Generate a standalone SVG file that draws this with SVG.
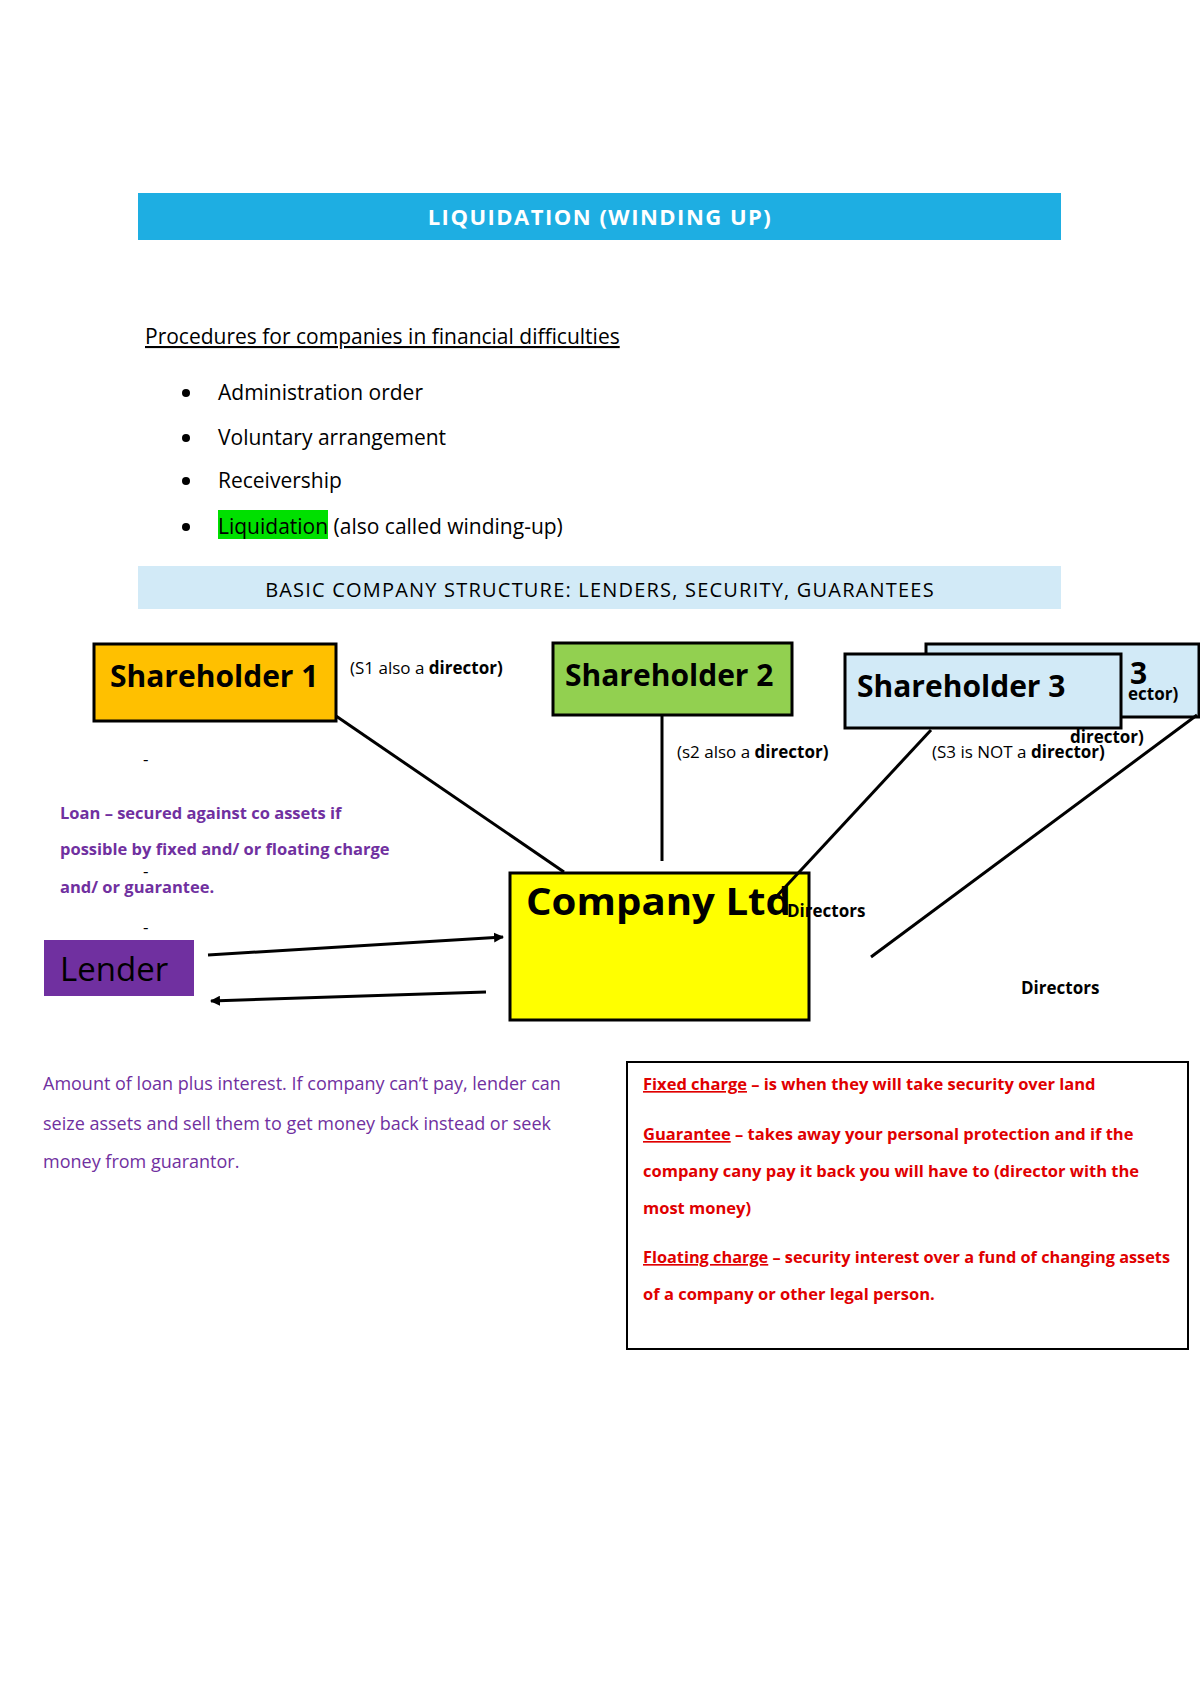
<svg xmlns="http://www.w3.org/2000/svg" width="1200" height="1698" viewBox="0 0 1200 1698">
<style>
text{font-family:"Open Sans","Liberation Sans",sans-serif}
.b{font-size:21px;fill:#000}
.sh{font-size:30px;font-weight:bold;fill:#000}
.note{font-size:17px;fill:#000}
.p{font-size:16.5px;fill:#7030A0;font-weight:bold}
.pb{font-size:18px;fill:#7030A0}
.r{font-size:16.5px;fill:#e00000;font-weight:bold}
.ln{stroke:#000;stroke-width:3;fill:none}
</style>
<defs><marker id="ah" markerWidth="10" markerHeight="10" refX="9" refY="5" orient="auto" markerUnits="userSpaceOnUse"><path d="M0,0 L10,5 L0,10 z" fill="#000"/></marker></defs>
<rect width="1200" height="1698" fill="#fff"/>
<rect x="138" y="193" width="923" height="47" fill="#1EAEE2"/>
<text x="600" y="225" text-anchor="middle" font-size="22" font-weight="bold" fill="#fff" letter-spacing="1.5">LIQUIDATION (WINDING UP)</text>
<text x="145" y="344" font-size="21" text-decoration="underline">Procedures for companies in financial difficulties</text>
<g fill="#000"><circle cx="186" cy="393" r="4"/><circle cx="186" cy="438" r="4"/><circle cx="186" cy="481" r="4"/><circle cx="186" cy="527" r="4"/></g>
<rect x="218" y="510" width="110" height="29" fill="#00E000"/>
<text x="218" y="400" class="b">Administration order</text>
<text x="218" y="445" class="b">Voluntary arrangement</text>
<text x="218" y="488" class="b">Receivership</text>
<text x="218" y="534" class="b">Liquidation (also called winding-up)</text>
<rect x="138" y="566" width="923" height="43" fill="#D2EAF7"/>
<text x="600" y="597" text-anchor="middle" font-size="20" letter-spacing="1.2">BASIC COMPANY STRUCTURE: LENDERS, SECURITY, GUARANTEES</text>
<g id="sh1"><rect x="94" y="644" width="242" height="77" fill="#FFC000" stroke="#000" stroke-width="3"/>
<text x="110" y="687" class="sh">Shareholder 1</text></g>
<text x="350" y="674" class="note">(S1 also a <tspan font-weight="bold">director)</tspan></text>
<g id="sh2"><rect x="553" y="643" width="239" height="72" fill="#92D050" stroke="#000" stroke-width="3"/>
<text x="565" y="686" class="sh">Shareholder 2</text></g>
<text x="677" y="758" class="note">(s2 also a <tspan font-weight="bold">director)</tspan></text>
<g id="sh3back"><rect x="926" y="644" width="273" height="73" fill="#D2EAF7" stroke="#000" stroke-width="3"/>
<text x="1130" y="684" class="sh" font-size="28">3</text>
<text x="1128" y="700" class="note" font-weight="bold">ector)</text></g>
<g id="sh3"><rect x="845" y="654" width="276" height="74" fill="#D2EAF7" stroke="#000" stroke-width="3"/>
<text x="857" y="697" class="sh">Shareholder 3</text></g>
<text x="1070" y="743" class="note" font-weight="bold">director)</text>
<text x="932" y="758" class="note">(S3 is NOT a <tspan font-weight="bold">director)</tspan></text>
<g id="company"><rect x="510" y="873" width="299" height="147" fill="#FFFF00" stroke="#000" stroke-width="3"/>
<text x="526" y="915" font-size="37" font-weight="bold" textLength="265" lengthAdjust="spacingAndGlyphs">Company Ltd</text></g>
<text x="787" y="917" class="note" font-weight="bold" font-family="Liberation Sans">Directors</text>
<text x="1021" y="994" class="note" font-weight="bold" font-family="Liberation Sans">Directors</text>
<g id="lender"><rect x="44" y="940" width="150" height="56" fill="#7030A0"/>
<text x="60" y="981" font-size="33">Lender</text></g>
<g id="connectors">
<line class="ln" x1="336" y1="716" x2="564" y2="872"/>
<line class="ln" x1="662" y1="715" x2="662" y2="861"/>
<line class="ln" x1="931" y1="730" x2="776" y2="897"/>
<line class="ln" x1="1197" y1="715" x2="871" y2="957"/>
<line class="ln" x1="208" y1="955" x2="503" y2="937" marker-end="url(#ah)"/>
<line class="ln" x1="486" y1="992" x2="211" y2="1001" marker-end="url(#ah)"/>
</g>
<text x="143" y="765" font-size="17">-</text>
<text x="143" y="877" font-size="17">-</text>
<text x="143" y="933" font-size="17">-</text>
<text x="60" y="819" class="p">Loan – secured against co assets if</text>
<text x="60" y="855" class="p">possible by fixed and/ or floating charge</text>
<text x="60" y="893" class="p">and/ or guarantee.</text>
<text x="43" y="1090" class="pb">Amount of loan plus interest. If company can’t pay, lender can</text>
<text x="43" y="1130" class="pb">seize assets and sell them to get money back instead or seek</text>
<text x="43" y="1168" class="pb">money from guarantor.</text>
<g id="defs-box"><rect x="627" y="1062" width="561" height="287" fill="none" stroke="#000" stroke-width="2"/>
<text x="643" y="1090" class="r"><tspan text-decoration="underline">Fixed charge</tspan> – is when they will take security over land</text>
<text x="643" y="1140" class="r"><tspan text-decoration="underline">Guarantee</tspan> – takes away your personal protection and if the</text>
<text x="643" y="1177" class="r">company cany pay it back you will have to (director with the</text>
<text x="643" y="1214" class="r">most money)</text>
<text x="643" y="1263" class="r" textLength="527" lengthAdjust="spacingAndGlyphs"><tspan text-decoration="underline">Floating charge</tspan> – security interest over a fund of changing assets</text>
<text x="643" y="1300" class="r">of a company or other legal person.</text></g>
</svg>
